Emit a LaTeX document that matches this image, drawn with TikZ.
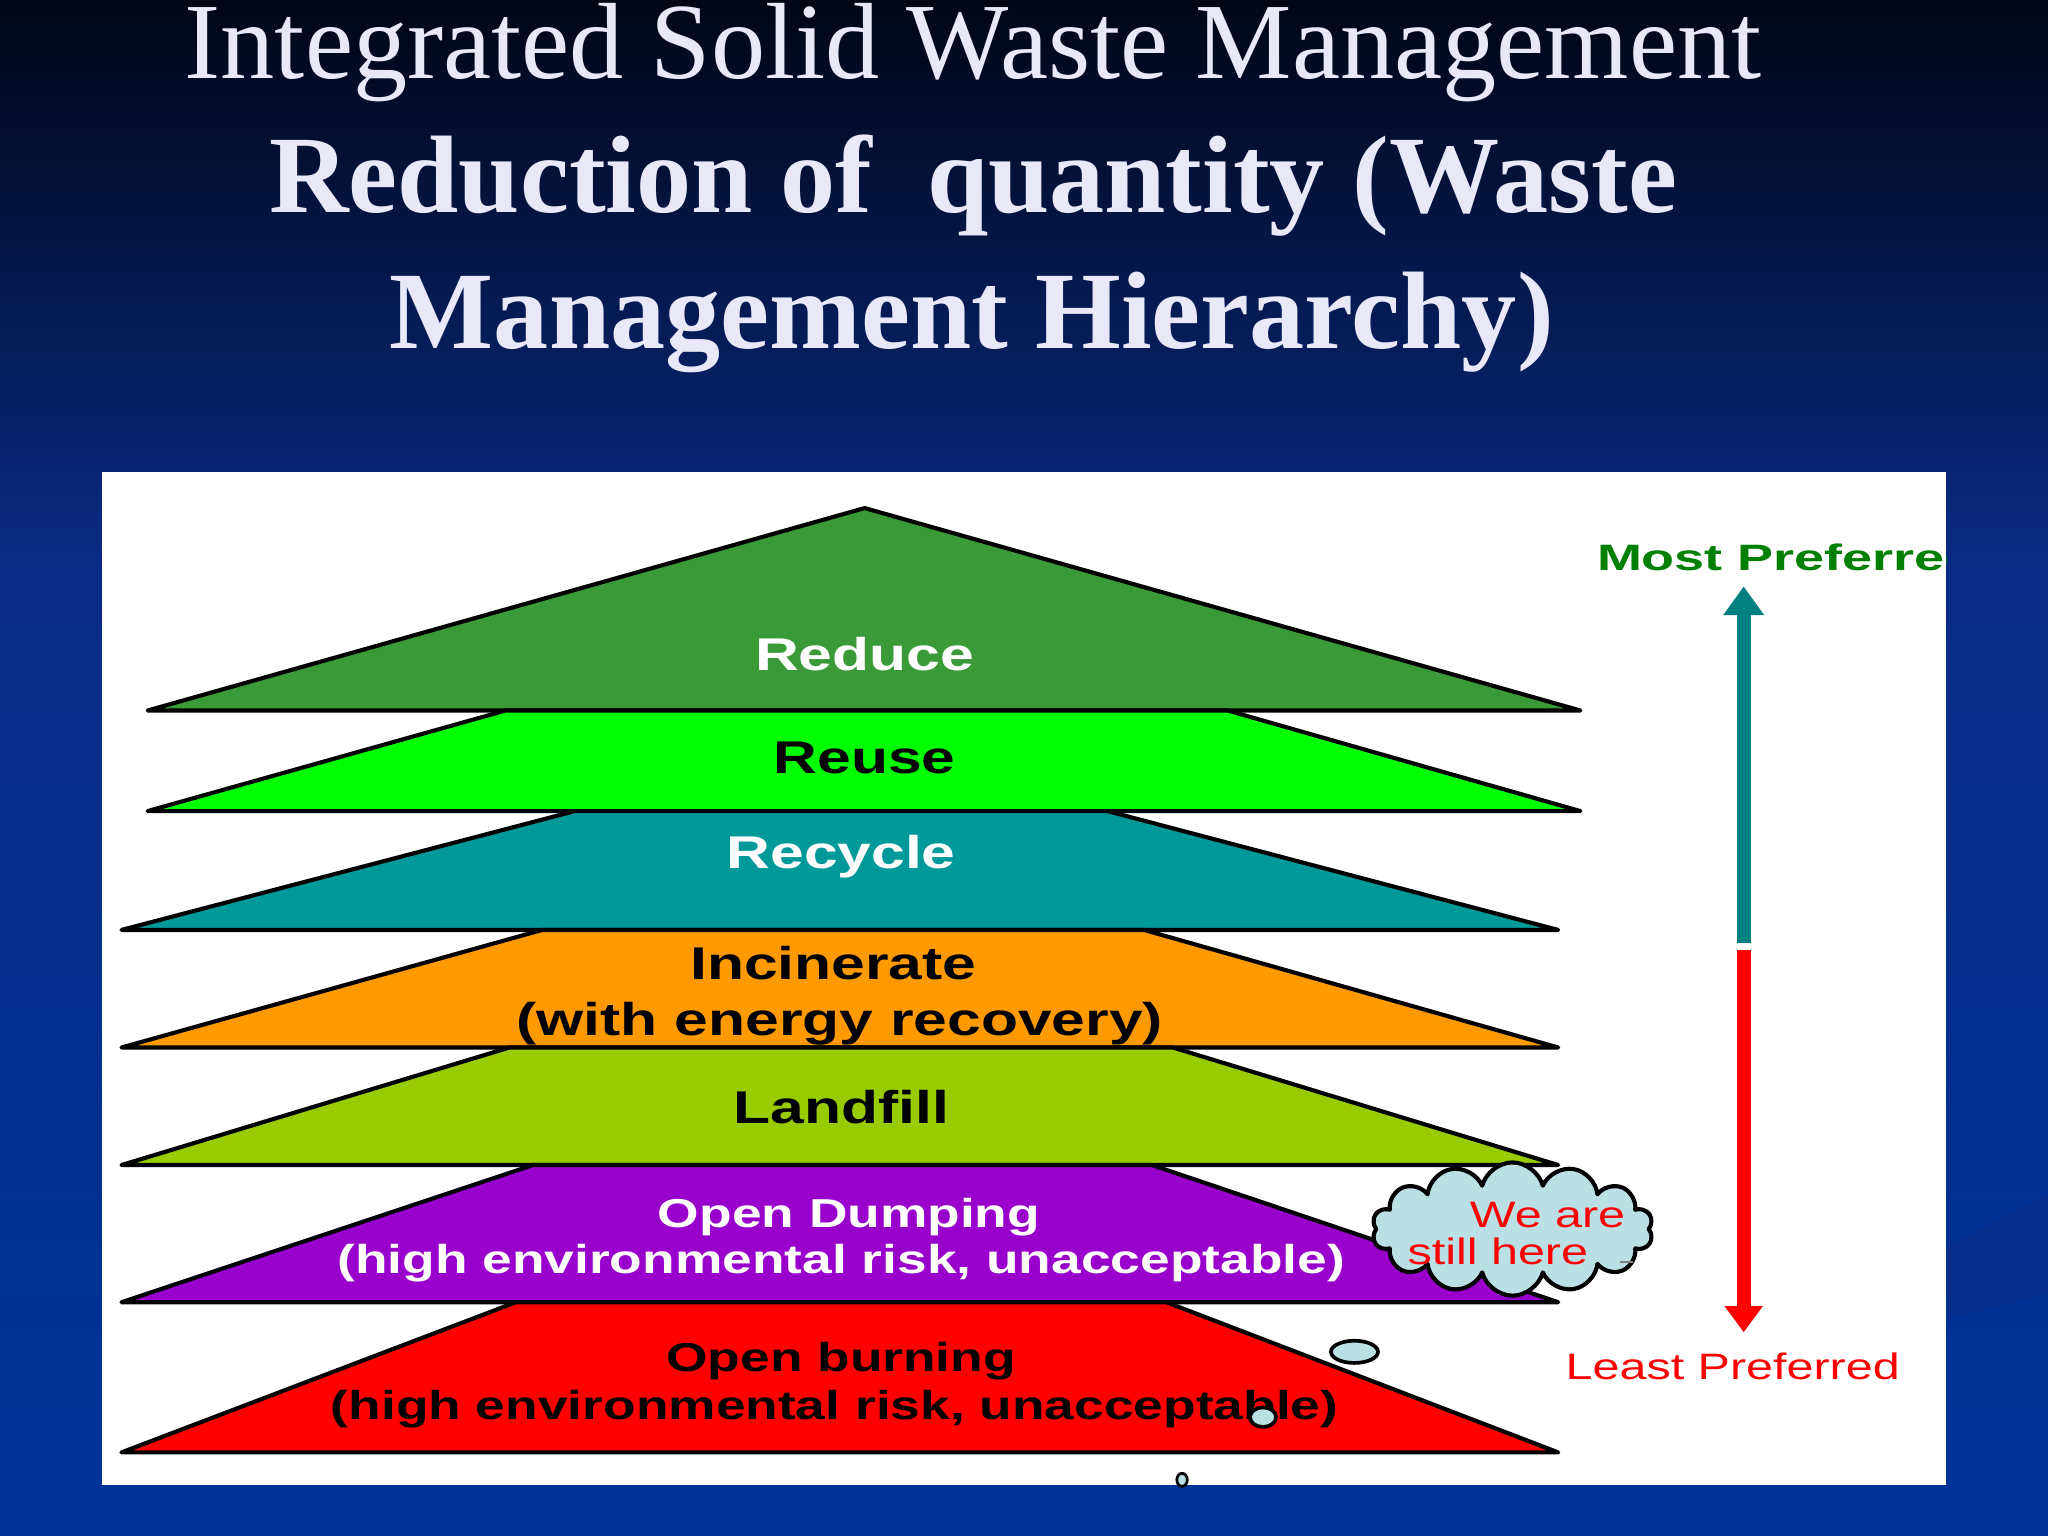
\documentclass[tikz,border=0pt]{standalone}
\usepackage{fontspec}
\setmainfont{Liberation Serif}
\newfontfamily\layerfont{Liberation Sans}[FakeStretch=1.32]
\newfontfamily\mostfont{Liberation Sans}[FakeStretch=1.47]
\usepackage{tikz}
\usetikzlibrary{shapes.symbols,arrows.meta,positioning}
\definecolor{bgtop}{RGB}{1,6,22}
\definecolor{bgmid}{RGB}{10,44,135}
\definecolor{bgbot}{RGB}{0,51,153}
\definecolor{titlewhite}{RGB}{232,232,248}
\definecolor{reducegreen}{RGB}{58,154,56}
\definecolor{reusegreen}{RGB}{0,255,0}
\definecolor{recycleteal}{RGB}{0,153,153}
\definecolor{incorange}{RGB}{255,153,0}
\definecolor{landlime}{RGB}{153,204,0}
\definecolor{dumppurple}{RGB}{153,0,204}
\definecolor{burnred}{RGB}{255,0,0}
\definecolor{cloudblue}{RGB}{186,224,230}
\definecolor{arrowteal}{RGB}{0,128,128}
\definecolor{mostgreen}{RGB}{0,128,0}

\begin{document}
\begin{tikzpicture}[line join=round,
  layer/.style={draw=black,line width=0.9pt},
  tier/.style={anchor=base,inner sep=0pt,font=\layerfont\bfseries\fontsize{10}{12}\selectfont},
  tiersmall/.style={tier,font=\layerfont\bfseries\fontsize{8.8}{10}\selectfont},
  heading/.style={anchor=base,inner sep=0pt,text=titlewhite},
  tag/.style={anchor=base west,inner sep=0pt}]
  \useasboundingbox (0,0) rectangle (15.68,-11.76);
  % slide background
  \shade[top color=bgtop,bottom color=bgmid] (0,0) rectangle (15.68,-4.40);
  \shade[top color=bgmid,bottom color=bgbot] (0,-4.40) rectangle (15.68,-11.76);
  \fill[bgmid,opacity=0.6] (14.90,-9.55) -- (15.68,-9.15) -- (15.68,-9.90) -- (14.90,-10.10) -- cycle;
  \node[heading,font=\fontsize{23.6}{28}\selectfont] (title1) at (7.45,-0.60) {Integrated Solid Waste Management};
  \node[heading,font=\bfseries\fontsize{24}{28}\selectfont] (title2) at (7.45,-1.63) {Reduction of~ quantity (Waste};
  \node[heading,font=\bfseries\fontsize{24}{28}\selectfont] (title3) at (7.44,-2.67) {Management Hierarchy)};
  % white panel
  \fill[white] (0.78,-3.61) rectangle (14.90,-11.37);
  % pyramid layers: bottom y / top y / bottom left / top left / top right / bottom right / colour
  \foreach \yb/\yt/\xbl/\xtl/\xtr/\xbr/\col in {
      -5.44/-3.89/1.13/6.62/6.62/12.10/reducegreen,
      -6.21/-5.44/1.13/3.87/9.40/12.10/reusegreen,
      -7.12/-6.21/0.93/4.40/8.48/11.93/recycleteal,
      -8.02/-7.12/0.93/4.15/8.76/11.93/incorange,
      -8.92/-8.02/0.93/3.90/8.98/11.93/landlime,
      -9.97/-8.92/0.93/4.08/8.82/11.93/dumppurple,
      -11.12/-9.97/0.93/3.95/8.93/11.93/burnred}{
    \filldraw[layer,fill=\col] (\xbl,\yb) -- (\xtl,\yt) -- (\xtr,\yt) -- (\xbr,\yb) -- cycle;}
  \node[tier,text=white] (reduce) at (6.62,-5.13) {Reduce};
  \node[tier] (reuse) at (6.62,-5.92) {Reuse};
  \node[tier,text=white] (recycle) at (6.44,-6.65) {Recycle};
  \node[tier] (incin) at (6.38,-7.50) {Incinerate};
  \node[tier] (incin2) at (6.43,-7.93) {(with energy recovery)};
  \node[tier] (landfill) at (6.44,-8.60) {Landfill};
  \node[tiersmall,text=white] (dump) at (6.50,-9.40) {Open Dumping};
  \node[tiersmall,text=white] (dump2) at (6.44,-9.75) {(high environmental risk, unacceptable)};
  \node[tiersmall] (burn) at (6.44,-10.50) {Open burning};
  \node[tiersmall] (burn2) at (6.39,-10.87) {(high environmental risk, unacceptable)};
  % thought cloud
  \node[cloud,cloud puffs=14,aspect=2.1,draw=black,line width=0.9pt,fill=cloudblue,
        minimum width=2.15cm,minimum height=1.02cm,inner sep=0pt] (cloud) at (11.58,-9.41) {};
  \node[anchor=base east,inner sep=0pt,text=red,font=\layerfont\fontsize{8}{9}\selectfont] (we) at (12.45,-9.40) {We are};
  \node[tag,text=red,font=\layerfont\fontsize{8}{9}\selectfont] (still) at (10.77,-9.68) {still here};
  \draw[gray,dashed,line width=0.4pt] (12.40,-9.66) -- (12.56,-9.66);
  \filldraw[fill=cloudblue,draw=black,line width=0.8pt] (10.37,-10.35) ellipse (0.18 and 0.085);
  \filldraw[fill=cloudblue,draw=black,line width=0.8pt] (9.67,-10.85) ellipse (0.10 and 0.075);
  \filldraw[fill=cloudblue,draw=black,line width=0.6pt] (9.05,-11.33) ellipse (0.04 and 0.05);
  % preference arrows
  \coordinate (mid) at (13.35,-7.22);
  \coordinate (top) at (13.35,-4.49);
  \coordinate (midlow) at (13.35,-7.27);
  \coordinate (bottom) at (13.35,-10.20);
  \draw[arrowteal,line width=3pt,-{Triangle[width=0.30cm,length=0.22cm]}] (mid) -- (top);
  \draw[burnred,line width=3pt,-{Triangle[width=0.28cm,length=0.20cm]}] (midlow) -- (bottom);
  \begin{scope}
    \clip (0.78,-3.61) rectangle (14.90,-11.37);
    \node[tag,text=mostgreen,font=\mostfont\bfseries\fontsize{8}{9}\selectfont] (most) at (12.22,-4.37) {Most Preferred};
  \end{scope}
  \node[tag,text=burnred,font=\layerfont\fontsize{8}{9}\selectfont] (least) at (11.98,-10.56) {Least Preferred};
\end{tikzpicture}
\end{document}
